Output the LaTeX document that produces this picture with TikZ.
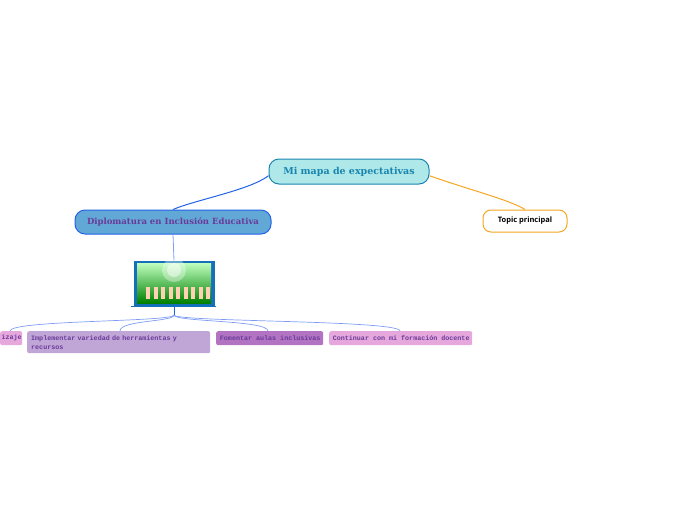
\documentclass[tikz,border=0pt]{standalone}
\usepackage{fontspec}
\setmainfont{DejaVu Serif}
\newfontfamily\leaffont{Liberation Mono}
\newfontfamily\topicfont{Open Sans}
\definecolor{rootfill}{HTML}{AEE8E8}
\definecolor{rootline}{HTML}{1A86B0}
\definecolor{dipfill}{HTML}{62A8D6}
\definecolor{dipline}{HTML}{2262E8}
\definecolor{purp}{HTML}{6A3A9A}
\definecolor{orng}{HTML}{F5A623}
\definecolor{lpink}{HTML}{E6A8DC}
\definecolor{llav}{HTML}{C0A6D6}
\definecolor{lmag}{HTML}{B274C2}
\definecolor{conn}{HTML}{7F9CF5}
\definecolor{imgblue}{HTML}{1470B8}
\begin{document}
\begin{tikzpicture}[x=1pt,y=-1pt,
  leaf/.style={rounded corners=2pt,inner sep=0pt,font=\leaffont\fontsize{6.7}{9}\selectfont\bfseries,text=purp,anchor=north west},
  hdr/.style={rounded corners=10pt,draw,line width=1pt,inner sep=0pt}]
\useasboundingbox (0,0) rectangle (697,520);
% root
\node[hdr,fill=rootfill,draw=rootline,minimum width=160pt,minimum height=25pt,text=rootline,font=\bfseries\fontsize{9.5}{11}\selectfont] (root) at (349,171.5) {Mi mapa de expectativas};
\node[hdr,fill=dipfill,draw=dipline,minimum width=196pt,minimum height=24pt,text=purp,font=\bfseries\fontsize{8.5}{10}\selectfont] (dip) at (173,222) {Diplomatura en Inclusión Educativa};
\node[rounded corners=8pt,draw=orng,line width=1pt,fill=white,minimum width=84pt,minimum height=22pt,inner sep=0pt,font=\topicfont\bfseries\fontsize{7.5}{9}\selectfont] (topic) at (525,221) {Topic principal};
\draw[dipline,line width=1pt] (root.183) .. controls (250,190) and (195,200) .. (dip.north);
\draw[orng,line width=1pt] (root.357) .. controls (470,190) and (510,200) .. (topic.north);
% image
\node[fill=imgblue,minimum width=81pt,minimum height=45pt,inner sep=0pt] (img) at (174,283) {};
\shade[top color=green!25!white,bottom color=green!50!black] (137,263) rectangle (211,303);
\fill[white,opacity=0.35] (174,270) circle (12);
\fill[white,opacity=0.45] (174,270) circle (7);
\foreach \i in {0,...,8}{\fill[red!20!orange!30!white] (146+\i*7.5,287) rectangle ++(4,12);}
\draw[imgblue,line width=1pt] (131,306) -- (216,306);
\draw[conn,line width=0.8pt] (dip.south) -- (img.north);
% leaves
\node[leaf,fill=lpink,minimum width=22pt,minimum height=14pt] (l1) at (0,331) {\hspace{1pt}izaje};
\node[leaf,fill=llav,text width=175pt,minimum height=22pt,align=left,inner xsep=4pt,inner ysep=2.5pt] (l2) at (27,331) {Implementar variedad de herramientas y\\recursos};
\node[leaf,fill=lmag,minimum width=107pt,minimum height=14pt] (l3) at (216,331) {\hspace{1pt}Fomentar aulas inclusivas};
\node[leaf,fill=lpink,minimum width=143pt,minimum height=14pt] (l4) at (329,331) {\hspace{1pt}Continuar con mi formación docente};
\coordinate (hub) at (174,315);
\draw[dipline,line width=1pt] (img.south) -- (hub);
\foreach \t/\x in {l1/10,l2/120,l3/268,l4/400}{
  \draw[conn,line width=0.7pt] (hub) .. controls (174,322) and (\x,320) .. (\x,331);}
\end{tikzpicture}
\end{document}
